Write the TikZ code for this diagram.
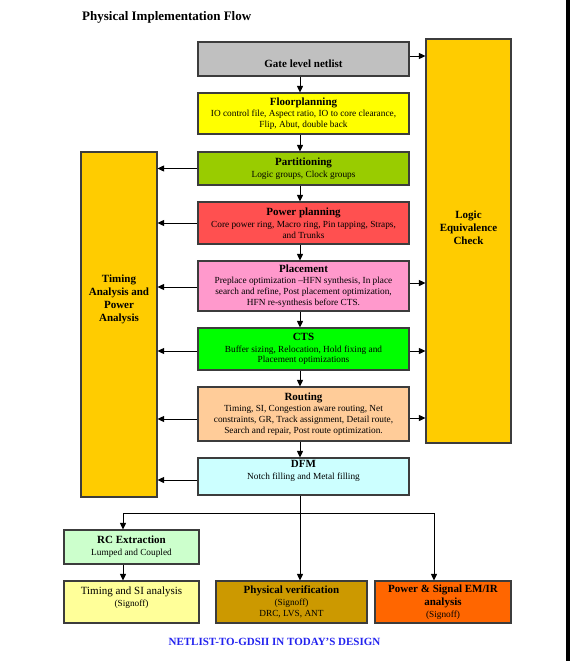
\documentclass[tikz,border=0pt]{standalone}
\usepackage{fontspec}
\setmainfont{Liberation Serif}
\usepackage{tikz}
\usetikzlibrary{arrows.meta, positioning, calc}
\definecolor{boxline}{HTML}{3C3C3C}
\definecolor{gateC}{HTML}{C0C0C0}
\definecolor{floorC}{HTML}{FFFF00}
\definecolor{partC}{HTML}{99CC00}
\definecolor{powerC}{HTML}{FF5050}
\definecolor{placeC}{HTML}{FF99CC}
\definecolor{ctsC}{HTML}{00FF00}
\definecolor{routeC}{HTML}{FFCC99}
\definecolor{dfmC}{HTML}{CCFFFF}
\definecolor{rcC}{HTML}{CCFFCC}
\definecolor{tsiC}{HTML}{FFFF99}
\definecolor{physC}{HTML}{CC9900}
\definecolor{psigC}{HTML}{FF6600}
\definecolor{sideC}{HTML}{FFCC00}
\definecolor{capC}{HTML}{2222EE}
\tikzset{
  flowbox/.style={draw=boxline, line width=1.1pt, minimum width=211pt,
                  inner sep=0pt, align=center, font=\fontsize{9.3}{10.8}\selectfont},
  sidebox/.style={draw=boxline, line width=1.1pt, fill=sideC, inner sep=0pt},
  sidetxt/.style={align=center, inner sep=0pt,
                  font=\fontsize{11}{13}\selectfont\bfseries},
  arr/.style={-{Triangle[length=6.5pt,width=6pt]}, line width=0.9pt},
}
\newcommand{\bxttl}[1]{{\fontsize{11}{13}\selectfont\bfseries #1}}

\begin{document}
\begin{tikzpicture}[x=1pt, y=-1pt]
    \useasboundingbox (0,0) rectangle (571,661);
    \fill (566,0) rectangle (570,661);
    \node[anchor=base west, inner sep=0pt, font=\fontsize{13}{15}\selectfont\bfseries]
      (title) at (82,20.5) {Physical Implementation Flow};
    %% main flow
    \node[flowbox, fill=gateC,  minimum height=34pt] (gate)  at (303.5,59)    {};
    \node[sidetxt] (gatetxt) at (303.5,64) {Gate level netlist};
    \node[flowbox, fill=floorC, minimum height=41pt] (floor) at (303.5,113.5)
      {\bxttl{Floorplanning}\\[1pt]IO control file, Aspect ratio, IO to core clearance,\\Flip, Abut, double back};
    \node[flowbox, fill=partC,  minimum height=33pt] (part)  at (303.5,168.5)
      {\bxttl{Partitioning}\\[1pt]Logic groups, Clock groups};
    \node[flowbox, fill=powerC, minimum height=42pt] (power) at (303.5,223)
      {\bxttl{Power planning}\\[1pt]Core power ring, Macro ring, Pin tapping, Straps,\\and Trunks};
    \node[flowbox, fill=placeC, minimum height=50pt] (place) at (303.5,286)
      {\bxttl{Placement}\\[1pt]Preplace optimization --HFN synthesis, In place\\search and refine, Post placement optimization,\\HFN re-synthesis before CTS.};
    \node[flowbox, fill=ctsC,   minimum height=42pt] (cts)   at (303.5,349)
      {\bxttl{CTS}\\[1pt]Buffer sizing, Relocation, Hold fixing and\\Placement optimizations};
    \node[flowbox, fill=routeC, minimum height=54pt] (route) at (303.5,414)
      {\bxttl{Routing}\\[1pt]Timing, SI, Congestion aware routing, Net\\constraints, GR, Track assignment, Detail route,\\Search and repair, Post route optimization.};
    \node[flowbox, fill=dfmC,   minimum height=37pt] (dfm)   at (303.5,476.5)
      {\bxttl{DFM}\\[1pt]Notch filling and Metal filling\\[3pt]};
    %% side checks
    \node[sidebox, minimum width=85pt, minimum height=404pt] (logic)  at (468.5,241) {};
    \node[sidetxt] (logictxt) at (468.5,228) {Logic\\Equivalence\\Check};
    \node[sidebox, minimum width=76pt, minimum height=345pt] (timing) at (119,324.5) {};
    \node[sidetxt] (timingtxt) at (119,299.5) {Timing\\Analysis and\\Power\\Analysis};
    %% signoff
    \node[flowbox, fill=rcC,   minimum width=135pt, minimum height=34pt] (rc)   at (131.5,547)
      {\bxttl{RC Extraction}\\[1pt]Lumped and Coupled};
    \node[flowbox, fill=tsiC,  minimum width=135pt, minimum height=42pt] (tsi)  at (131.5,602)
      {{\fontsize{11}{13}\selectfont Timing and SI analysis}\\[1pt](Signoff)\\\mbox{}};
    \node[flowbox, fill=physC, minimum width=151pt, minimum height=42pt] (phys) at (291.5,602)
      {\bxttl{Physical verification}\\[1pt](Signoff)\\DRC, LVS, ANT};
    \node[flowbox, fill=psigC, minimum width=136pt, minimum height=42pt] (psig) at (443,602)
      {\bxttl{Power \& Signal EM/IR}\\[2pt]\bxttl{analysis}\\[1pt](Signoff)};
    \node[font=\fontsize{11}{13}\selectfont\bfseries, text=capC, inner sep=0pt]
      (caption) at (274.5,642) {NETLIST-TO-GDSII IN TODAY'S DESIGN};
    %% connectors
    \coordinate (spine) at (300,0);
    \foreach \a/\b in {gate/floor, floor/part, part/power, power/place,
                       place/cts, cts/route, route/dfm}
      \draw[arr] (\a.south -| spine) -- (\b.north -| spine);
    \foreach \n/\dy in {part/0, power/0, place/-1, cts/-2, route/-5, dfm/-3.5}
      \draw[arr] ([yshift=\dy pt]\n.west) -- ([yshift=\dy pt]\n.west -| timing.east);
    \foreach \n/\dy in {gate/3, place/3, cts/-2, route/-4}
      \draw[arr] ([yshift=\dy pt]\n.east) -- ([yshift=\dy pt]\n.east -| logic.west);
    \coordinate (split) at (300,513);
    \coordinate (lbr) at (123,513);
    \coordinate (rbr) at (434,513);
    \draw[line width=0.9pt] (dfm.south -| split) -- (split);
    \draw[arr] (split) -| (rc.north -| lbr);
    \draw[arr] (split) -| (psig.north -| rbr);
    \draw[arr] (split) -- (phys.north -| split);
    \draw[arr] (rc.south -| lbr) -- (tsi.north -| lbr);
\end{tikzpicture}
\end{document}
